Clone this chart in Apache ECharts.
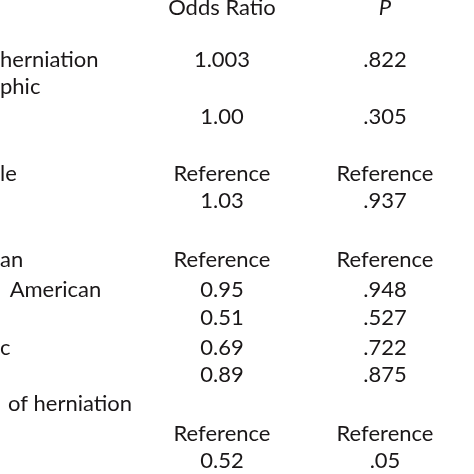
<!DOCTYPE html>
<html><head><meta charset="utf-8">
<script src="https://cdn.jsdelivr.net/npm/echarts@6/dist/echarts.min.js"></script>
<style>html,body{margin:0;background:#fff}#c{width:474px;height:474px}</style>
</head><body><div id="c"></div>
<script>
const headers = ["Odds Ratio", "P"];
const labels = ["herniation", "phic", "", "le", "", "an", " American", "", "c", "", "of herniation", "", ""];
const oddsRatios = ["1.003", "", "1.00", "Reference", "1.03", "Reference", "0.95", "0.51", "0.69", "0.89", "", "Reference", "0.52"];
const pValues = [".822", "", ".305", "Reference", ".937", "Reference", ".948", ".527", ".722", ".875", "", "Reference", ".05"];
const rowY = [60, 87, 117, 174, 201, 260, 290, 318, 348, 375, 404, 434, 461];
const labelX = [0, 0, 0, 0, 0, 0, 4, 0, 0, 0, 8, 0, 0];

const font = '22px Lato, "Open Sans", sans-serif';
const col = '#1a1718';
const els = [];
els.push({type:'text', style:{text:headers[0], x:222, y:8, align:'center', verticalAlign:'middle', font:font, fill:col}});
els.push({type:'text', style:{text:headers[1], x:385, y:8, align:'center', verticalAlign:'middle', font:'italic '+font, fill:col}});
rowY.forEach((y,i)=>{
  if(labels[i]) els.push({type:'text', style:{text:labels[i], x:labelX[i], y:y, align:'left', verticalAlign:'middle', font:font, fill:col}});
  if(oddsRatios[i]) els.push({type:'text', style:{text:oddsRatios[i], x:222, y:y, align:'center', verticalAlign:'middle', font:font, fill:col}});
  if(pValues[i]) els.push({type:'text', style:{text:pValues[i], x:385, y:y, align:'center', verticalAlign:'middle', font:font, fill:col}});
});
const chart = echarts.init(document.getElementById('c'));
chart.setOption({animation:false, backgroundColor:'#fff', graphic:{elements:els}});
</script></body></html>
